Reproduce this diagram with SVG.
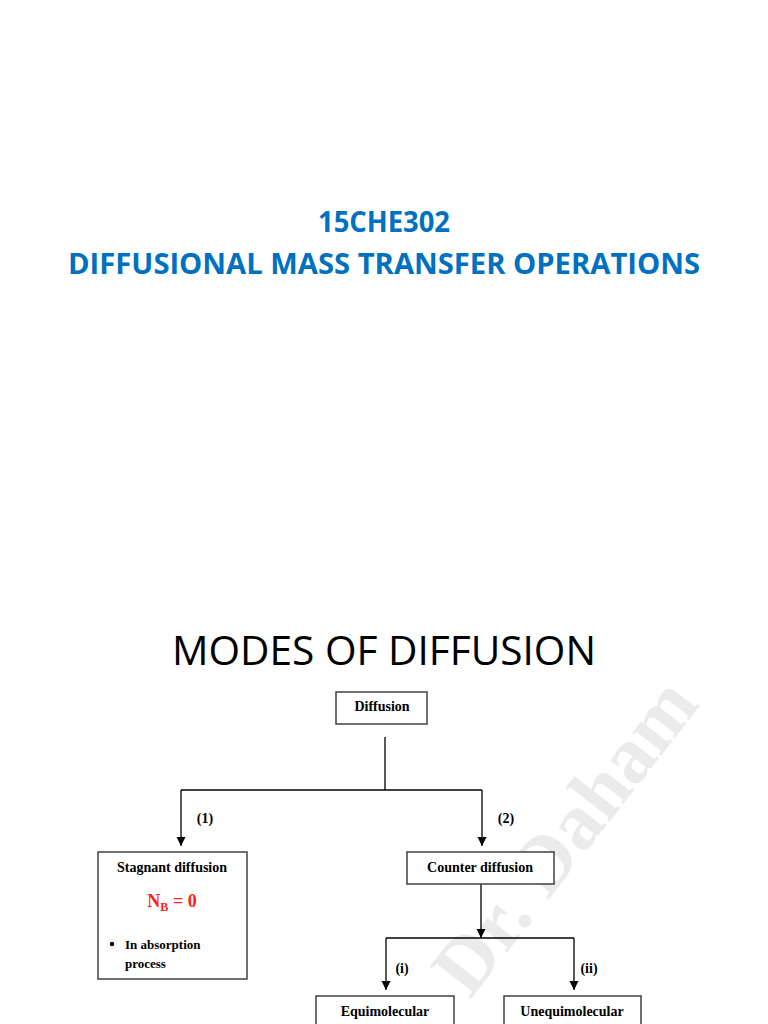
<svg xmlns="http://www.w3.org/2000/svg" width="768" height="1024" viewBox="0 0 768 1024">
<style>
.t{font-family:"Open Sans","Liberation Sans",sans-serif;fill:#0070C0;font-weight:bold;font-size:29px;text-anchor:middle}
.b{font-family:"Liberation Serif",serif;font-weight:bold;font-size:14px;text-anchor:middle;fill:#000}
.box{fill:#fff;stroke:#404040;stroke-width:1.5}
.ln{stroke:#000;stroke-width:1.3;fill:none}
</style>
<defs><marker id="a" viewBox="0 0 10 10" refX="10" refY="5" markerWidth="7" markerHeight="7" orient="auto"><path d="M0,0L10,5L0,10z" fill="#000"/></marker></defs>
<rect width="768" height="1024" fill="#fff"/>
<text class="t" x="384" y="232" textLength="132" lengthAdjust="spacingAndGlyphs">15CHE302</text>
<text class="t" x="384" y="274" textLength="632" lengthAdjust="spacingAndGlyphs">DIFFUSIONAL MASS TRANSFER OPERATIONS</text>
<text x="384" y="665" text-anchor="middle" font-family="Open Sans, Liberation Sans, sans-serif" font-size="40" fill="#000" textLength="424" lengthAdjust="spacingAndGlyphs">MODES OF DIFFUSION</text>
<text x="0" y="0" transform="translate(470,1000) rotate(-52)" font-family="Liberation Serif,serif" font-weight="bold" font-size="80" fill="#ebebeb">Dr. Daham</text>
<g id="connectors">
<path class="ln" d="M385,737V790"/>
<path class="ln" d="M181,790H482"/>
<path class="ln" d="M181,790V846" marker-end="url(#a)"/>
<path class="ln" d="M482,790V846" marker-end="url(#a)"/>
<path class="ln" d="M481,884V938" marker-end="url(#a)"/>
<path class="ln" d="M386,938H574"/>
<path class="ln" d="M386,938V990" marker-end="url(#a)"/>
<path class="ln" d="M574,938V990" marker-end="url(#a)"/>
<text class="b" x="205" y="823">(1)</text>
<text class="b" x="506" y="823">(2)</text>
<text class="b" x="402" y="973">(i)</text>
<text class="b" x="589" y="973">(ii)</text>
</g>
<g id="diffusion"><rect class="box" x="336" y="692" width="91" height="32"/><text class="b" x="382" y="711">Diffusion</text></g>
<g id="stagnant"><rect class="box" x="98" y="852" width="149" height="127"/><text class="b" x="172" y="872">Stagnant diffusion</text>
<text x="172" y="907" text-anchor="middle" font-family="Liberation Serif,serif" font-weight="bold" font-size="18" fill="#ff2020">N<tspan font-size="12" dy="4">B</tspan><tspan dy="-4"> = 0</tspan></text>
<circle cx="112" cy="944" r="2.2" fill="#000"/>
<text x="125" y="949" font-family="Liberation Serif,serif" font-weight="bold" font-size="13">In absorption</text>
<text x="125" y="968" font-family="Liberation Serif,serif" font-weight="bold" font-size="13">process</text></g>
<g id="counter"><rect class="box" x="407" y="852" width="147" height="32"/><text class="b" x="480" y="872">Counter diffusion</text></g>
<g id="equi"><rect class="box" x="316" y="996" width="138" height="40"/><text class="b" x="385" y="1016">Equimolecular</text></g>
<g id="unequi"><rect class="box" x="504" y="996" width="137" height="40"/><text class="b" x="572" y="1016">Unequimolecular</text></g>
</svg>
